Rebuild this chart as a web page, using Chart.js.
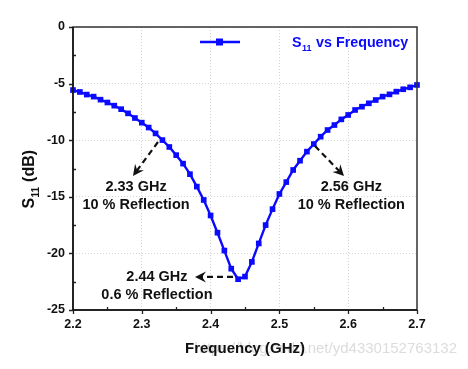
<!DOCTYPE html>
<html>
<head>
<meta charset="utf-8">
<script src="https://cdn.jsdelivr.net/npm/chart.js@4.4.1/dist/chart.umd.min.js"></script>
<style>
  html, body { margin: 0; padding: 0; background: #fff; }
  #wrap { width: 468px; height: 369px; }
</style>
</head>
<body>
<div id="wrap"><canvas id="s11Chart" width="468" height="369"></canvas></div>
<script>
// Frequency (GHz) and measured S11 (dB)
var freq = [2.20, 2.21, 2.22, 2.23, 2.24, 2.25, 2.26, 2.27, 2.28, 2.29,
            2.30, 2.31, 2.32, 2.33, 2.34, 2.35, 2.36, 2.37, 2.38, 2.39,
            2.40, 2.41, 2.42, 2.43, 2.44, 2.45, 2.46, 2.47, 2.48, 2.49,
            2.50, 2.51, 2.52, 2.53, 2.54, 2.55, 2.56, 2.57, 2.58, 2.59,
            2.60, 2.61, 2.62, 2.63, 2.64, 2.65, 2.66, 2.67, 2.68, 2.69, 2.70];
var s11 = [-5.57, -5.74, -5.97, -6.15, -6.42, -6.67, -6.95, -7.26, -7.63, -8.04,
           -8.45, -8.88, -9.40, -9.99, -10.60, -11.32, -12.07, -13.00, -14.10, -15.28,
           -16.65, -18.17, -19.75, -21.35, -22.28, -22.05, -20.75, -19.12, -17.50, -16.09,
           -14.75, -13.70, -12.63, -11.81, -11.01, -10.34, -9.69, -9.10, -8.66, -8.16,
           -7.77, -7.33, -7.04, -6.74, -6.45, -6.15, -5.95, -5.71, -5.50, -5.33, -5.12];
var xTicks = [2.2, 2.3, 2.4, 2.5, 2.6, 2.7];
var yTicks = [0, -5, -10, -15, -20, -25];

// annotations: [text lines], text anchor (data coords), arrow from -> to (data coords)
var notes = [
    { lines: ['2.33 GHz', '10 % Reflection'], x: 2.2916, y: -14.13, from: [2.3235, -10.16], to: [2.2872, -13.16] },
    { lines: ['2.56 GHz', '10 % Reflection'], x: 2.6045, y: -14.13, from: [2.5517, -10.51], to: [2.5939, -13.16] },
    { lines: ['2.44 GHz', '0.6 % Reflection'], x: 2.3220, y: -22.08, from: [2.4326, -22.08], to: [2.3773, -22.08] }
];

var BLUE = '#0a0aff';
var FONT = '"Liberation Sans", Arial, sans-serif';

function drawSub(ctx, x, y, main, sub, rest, size) {
    ctx.font = 'bold ' + size + 'px ' + FONT;
    ctx.fillText(main, x, y);
    var w = ctx.measureText(main).width;
    ctx.font = 'bold ' + Math.round(size * 0.62) + 'px ' + FONT;
    ctx.fillText(sub, x + w + 0.5, y + size * 0.3);
    w += ctx.measureText(sub).width + 1;
    ctx.font = 'bold ' + size + 'px ' + FONT;
    ctx.fillText(rest, x + w, y);
}
function subWidth(ctx, main, sub, rest, size) {
    ctx.font = 'bold ' + size + 'px ' + FONT;
    var w = ctx.measureText(main).width + ctx.measureText(rest).width;
    ctx.font = 'bold ' + Math.round(size * 0.62) + 'px ' + FONT;
    return w + ctx.measureText(sub).width + 1.5;
}

function arrow(ctx, x1, y1, x2, y2) {
    var ang = Math.atan2(y2 - y1, x2 - x1);
    var head = 11;
    ctx.save();
    ctx.strokeStyle = '#111';
    ctx.lineWidth = 2.2;
    ctx.setLineDash([6, 4]);
    ctx.beginPath();
    ctx.moveTo(x1, y1);
    ctx.lineTo(x2 - Math.cos(ang) * head * 0.6, y2 - Math.sin(ang) * head * 0.6);
    ctx.stroke();
    ctx.setLineDash([]);
    ctx.translate(x2, y2);
    ctx.rotate(ang);
    ctx.fillStyle = '#111';
    ctx.beginPath();
    ctx.moveTo(0, 0);
    ctx.lineTo(-head, -5.5);
    ctx.lineTo(-head * 0.65, 0);
    ctx.lineTo(-head, 5.5);
    ctx.closePath();
    ctx.fill();
    ctx.restore();
}

var overlay = {
    id: 'overlay',
    afterDraw: function (chart) {
        var ctx = chart.ctx;
        var a = chart.chartArea;
        var xs = chart.scales.x, ys = chart.scales.y;
        ctx.save();

        // major ticks outward, minor ticks inward
        ctx.strokeStyle = '#222';
        ctx.lineWidth = 1.3;
        ctx.beginPath();
        for (var v = 2.2; v <= 2.7001; v += 0.05) {
            var px = Math.round(xs.getPixelForValue(v)) + 0.5;
            if (Math.round(v * 100) % 10 === 0) {
                ctx.moveTo(px, a.bottom); ctx.lineTo(px, a.bottom + 4);
            } else {
                ctx.moveTo(px, a.bottom); ctx.lineTo(px, a.bottom - 3);
            }
        }
        for (var w = 0; w >= -25; w -= 2.5) {
            var py = Math.round(ys.getPixelForValue(w)) + 0.5;
            if (w % 5 === 0) {
                ctx.moveTo(a.left, py); ctx.lineTo(a.left - 4, py);
            } else {
                ctx.moveTo(a.left, py); ctx.lineTo(a.left + 3, py);
            }
        }
        ctx.stroke();

        // frame
        ctx.lineWidth = 1.5;
        ctx.strokeStyle = '#333';
        ctx.strokeRect(a.left, a.top, a.right - a.left, a.bottom - a.top);
        ctx.strokeStyle = '#111';
        ctx.beginPath();
        ctx.moveTo(a.left, a.top); ctx.lineTo(a.left, a.bottom); ctx.lineTo(a.right, a.bottom);
        ctx.stroke();

        // watermark
        ctx.fillStyle = 'rgba(205,205,205,0.7)';
        ctx.font = '15px ' + FONT;
        ctx.textAlign = 'right';
        ctx.textBaseline = 'middle';
        ctx.fillText('https://blog.csdn.net/yd4330152763132', 457, 349);

        // axis titles
        ctx.fillStyle = '#111';
        ctx.textAlign = 'center';
        ctx.font = 'bold 15px ' + FONT;
        ctx.fillText('Frequency (GHz)', (a.left + a.right) / 2, 349);

        ctx.save();
        ctx.translate(34, 179);
        ctx.rotate(-Math.PI / 2);
        ctx.textAlign = 'left';
        ctx.textBaseline = 'alphabetic';
        var tw = subWidth(ctx, 'S', '11', ' (dB)', 16);
        drawSub(ctx, -tw / 2, 0, 'S', '11', ' (dB)', 16);
        ctx.restore();

        // legend
        var ly = a.top + 15;
        ctx.strokeStyle = BLUE;
        ctx.lineWidth = 2.4;
        ctx.beginPath();
        ctx.moveTo(200, ly);
        ctx.lineTo(240, ly);
        ctx.stroke();
        ctx.fillStyle = BLUE;
        ctx.fillRect(216, ly - 3.5, 7, 7);
        ctx.textAlign = 'left';
        ctx.textBaseline = 'alphabetic';
        drawSub(ctx, 292, ly + 5, 'S', '11', ' vs Frequency', 14.3);

        // annotations
        ctx.fillStyle = '#111';
        ctx.textAlign = 'center';
        ctx.textBaseline = 'middle';
        ctx.font = 'bold 14.5px ' + FONT;
        notes.forEach(function (n) {
            var tx = xs.getPixelForValue(n.x), ty = ys.getPixelForValue(n.y);
            n.lines.forEach(function (s, i) { ctx.fillText(s, tx, ty + i * 18.5); });
            arrow(ctx, xs.getPixelForValue(n.from[0]), ys.getPixelForValue(n.from[1]),
                  xs.getPixelForValue(n.to[0]), ys.getPixelForValue(n.to[1]));
        });
        ctx.restore();
    }
};

var ctx = document.getElementById('s11Chart').getContext('2d');
var s11Chart = new Chart(ctx, {
    type: 'line',
    data: {
        datasets: [{
            label: 'S11 vs Frequency',
            data: freq.map(function (f, i) { return { x: f, y: s11[i] }; }),
            borderColor: BLUE,
            backgroundColor: BLUE,
            borderWidth: 2.4,
            pointStyle: 'rect',
            pointRadius: 4,
            pointBorderWidth: 0,
            tension: 0,
            clip: false
        }]
    },
    options: {
        responsive: false,
        animation: false,
        layout: { padding: { left: 0, top: 27, right: 51, bottom: 0 } },
        scales: {
            x: {
                type: 'linear',
                min: 2.2,
                max: 2.7,
                afterFit: function (s) { s.height = 59; },
                afterBuildTicks: function (s) { s.ticks = xTicks.map(function (v) { return { value: v }; }); },
                ticks: {
                    padding: 7,
                    color: '#111',
                    font: { family: FONT, size: 12.5, weight: 'bold' },
                    callback: function (v) { return v.toFixed(1); }
                },
                grid: { color: '#d4d4d4', lineWidth: 1, drawTicks: false },
                border: { display: false, dash: [1, 2] }
            },
            y: {
                min: -25,
                max: 0,
                afterFit: function (s) { s.width = 73; },
                afterBuildTicks: function (s) { s.ticks = yTicks.map(function (v) { return { value: v }; }); },
                ticks: {
                    padding: 8,
                    color: '#111',
                    font: { family: FONT, size: 12.5, weight: 'bold' }
                },
                grid: { color: '#d4d4d4', lineWidth: 1, drawTicks: false },
                border: { display: false, dash: [1, 2] }
            }
        },
        plugins: {
            legend: { display: false },
            tooltip: { enabled: false }
        }
    },
    plugins: [overlay]
});
</script>
</body>
</html>
